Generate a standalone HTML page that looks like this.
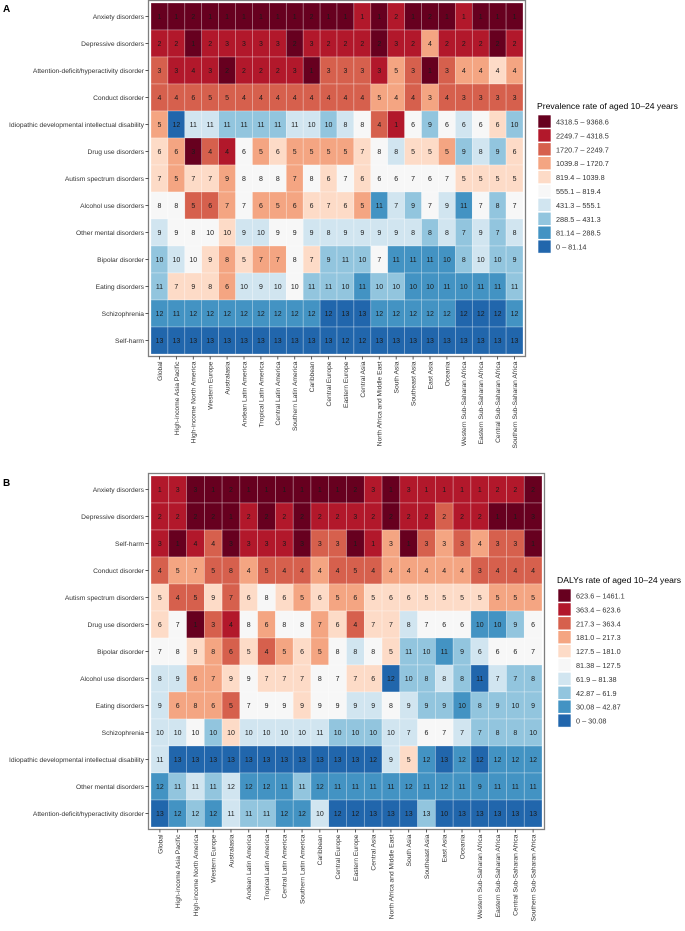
<!DOCTYPE html>
<html><head><meta charset="utf-8"><style>
html,body{margin:0;padding:0;background:#fff;}
svg{display:block;font-family:"Liberation Sans",sans-serif;}
</style></head><body>
<svg id="fig" width="685" height="931" viewBox="0 0 685 931"></svg>
<script>
const regions=["Global","High-income Asia Pacific","High-income North America","Western Europe","Australasia","Andean Latin America","Tropical Latin America","Central Latin America","Southern Latin America","Caribbean","Central Europe","Eastern Europe","Central Asia","North Africa and Middle East","South Asia","Southeast Asia","East Asia","Oceania","Western Sub-Saharan Africa","Eastern Sub-Saharan Africa","Central Sub-Saharan Africa","Southern Sub-Saharan Africa"];
const disordersA=["Anxiety disorders","Depressive disorders","Attention-deficit/hyperactivity disorder","Conduct disorder","Idiopathic developmental intellectual disability","Drug use disorders","Autism spectrum disorders","Alcohol use disorders","Other mental disorders","Bipolar disorder","Eating disorders","Schizophrenia","Self-harm"];
const disordersB=["Anxiety disorders","Depressive disorders","Self-harm","Conduct disorder","Autism spectrum disorders","Drug use disorders","Bipolar disorder","Alcohol use disorders","Eating disorders","Schizophrenia","Idiopathic developmental intellectual disability","Other mental disorders","Attention-deficit/hyperactivity disorder"];
const legendA=["4318.5 – 9368.6","2249.7 – 4318.5","1720.7 – 2249.7","1039.8 – 1720.7","819.4 – 1039.8","555.1 – 819.4","431.3 – 555.1","288.5 – 431.3","81.14 – 288.5","0 – 81.14"];
const legendB=["623.6 – 1461.1","363.4 – 623.6","217.3 – 363.4","181.0 – 217.3","127.5 – 181.0","81.38 – 127.5","61.9 – 81.38","42.87 – 61.9","30.08 – 42.87","0 – 30.08"];
const rankA=[
[1,1,2,1,1,1,1,1,1,2,1,1,1,1,2,1,2,1,1,1,1,1],
[2,2,1,2,3,3,3,3,2,3,2,2,2,2,3,2,4,2,2,2,2,2],
[3,3,4,3,2,2,2,2,3,1,3,3,3,3,5,3,1,3,4,4,4,4],
[4,4,6,5,5,4,4,4,4,4,4,4,4,5,4,4,3,4,3,3,3,3],
[5,12,11,11,11,11,11,11,11,10,10,8,8,4,1,6,9,6,6,6,6,10],
[6,6,3,4,4,6,5,6,5,5,5,5,7,8,8,5,5,5,9,8,9,6],
[7,5,7,7,9,8,8,8,7,8,6,7,6,6,6,7,6,7,5,5,5,5],
[8,8,5,6,7,7,6,5,6,6,7,6,5,11,7,9,7,9,11,7,8,7],
[9,9,8,10,10,9,10,9,9,9,8,9,9,9,9,8,8,8,7,9,7,8],
[10,10,10,9,8,5,7,7,8,7,9,11,10,7,11,11,11,10,8,10,10,9],
[11,7,9,8,6,10,9,10,10,11,11,10,11,10,10,10,10,11,10,11,11,11],
[12,11,12,12,12,12,12,12,12,12,12,13,13,12,12,12,12,12,12,12,12,12],
[13,13,13,13,13,13,13,13,13,13,13,12,12,13,13,13,13,13,13,13,13,13]];
const levelA=[
[9,9,9,9,9,9,9,9,9,9,9,9,8,9,8,9,9,9,8,9,9,9],
[8,8,9,8,8,8,8,8,9,8,8,8,8,9,8,8,6,8,8,8,9,8],
[7,8,8,8,9,8,8,8,8,9,7,7,7,8,6,7,9,7,6,6,5,6],
[7,7,7,7,7,7,7,7,7,7,7,7,7,6,6,7,6,7,7,7,7,7],
[6,0,3,3,2,2,2,2,3,3,2,3,4,7,8,4,2,4,3,4,5,2],
[5,6,9,7,8,4,6,5,6,6,6,6,5,4,3,5,5,6,2,3,2,5],
[5,6,5,5,6,4,4,4,6,4,5,4,5,4,4,4,4,4,5,5,5,5],
[4,4,7,7,6,4,6,6,6,5,5,5,6,1,3,2,4,3,1,4,2,4],
[3,4,4,4,5,3,3,4,4,3,3,3,3,3,3,3,2,3,2,3,2,3],
[2,3,4,5,6,5,6,6,4,5,2,2,2,4,1,1,1,1,2,3,2,2],
[2,5,5,5,6,3,3,3,4,2,2,2,1,2,2,1,1,1,1,1,1,2],
[1,1,1,1,1,1,1,1,1,1,0,0,0,1,1,1,1,1,0,0,0,1],
[0,0,0,0,0,0,0,0,0,0,0,0,0,0,0,0,0,0,0,0,0,0]];
const rankB=[
[1,3,3,1,2,1,1,1,1,1,1,2,3,1,3,1,1,1,1,2,2,2],
[2,2,2,2,1,2,2,2,2,2,2,3,2,2,2,2,2,2,2,1,1,3],
[3,1,4,4,3,3,3,3,3,3,3,1,1,3,1,3,3,3,4,3,3,1],
[4,5,7,5,8,4,5,4,4,4,4,5,4,4,4,4,4,4,3,4,4,4],
[5,4,5,9,7,6,8,6,5,6,5,6,5,6,6,5,5,5,5,5,5,5],
[6,7,1,3,4,8,6,8,8,7,6,4,7,7,8,7,6,6,10,10,9,6],
[7,8,9,8,6,5,4,5,6,5,8,8,8,5,11,10,11,9,6,6,6,7],
[8,9,6,7,9,9,7,7,7,8,7,7,6,12,10,8,8,8,11,7,7,8],
[9,6,8,6,5,7,9,9,9,9,9,9,9,8,9,9,9,10,8,9,10,9],
[10,10,10,10,10,10,10,10,10,11,10,10,10,10,7,6,7,7,7,8,8,10],
[11,13,13,13,13,13,13,13,13,13,13,13,12,9,5,12,13,12,12,12,12,12],
[12,11,11,11,12,12,12,11,11,12,11,11,11,11,12,11,12,11,9,11,11,11],
[13,12,12,12,11,11,11,12,12,10,12,12,13,13,13,13,10,13,13,13,13,13]];
const levelB=[
[8,8,9,9,9,9,9,9,9,9,9,9,8,9,8,8,8,8,8,8,8,9],
[8,8,9,9,9,8,9,8,9,8,8,8,8,9,8,8,7,8,8,9,9,9],
[8,9,8,7,9,8,8,8,9,7,7,9,8,6,9,7,6,7,6,7,7,9],
[7,6,6,7,7,6,7,7,7,6,7,7,7,6,6,6,6,6,7,7,7,7],
[5,7,7,5,7,5,4,5,6,5,6,6,5,5,5,5,5,5,5,6,6,6],
[5,4,9,7,8,4,6,4,4,6,5,7,5,5,3,4,4,4,1,1,2,4],
[4,4,5,6,7,5,7,6,5,6,4,3,4,5,2,2,1,2,3,4,4,4],
[3,3,6,6,5,4,5,5,5,4,4,5,5,0,2,2,3,2,0,3,2,2],
[3,6,6,6,7,4,4,4,5,4,4,3,3,4,3,2,2,1,2,2,2,2],
[3,3,4,2,5,3,3,3,3,3,2,2,2,3,3,4,4,3,2,2,2,2],
[3,0,0,0,0,0,0,0,0,0,0,0,0,3,5,1,0,1,0,1,1,1],
[1,2,3,2,3,1,1,1,2,1,1,1,1,1,1,1,1,1,1,1,1,1],
[0,1,2,1,3,2,2,1,1,3,0,0,0,0,0,2,0,0,0,0,0,0]];

const palette=["#2166AC","#4393C3","#92C5DE","#D1E5F0","#F7F7F7","#FDDBC7","#F4A582","#D6604D","#B2182B","#67001F"];
const NS="http://www.w3.org/2000/svg";
const svg=document.getElementById('fig');
function mk(tag,attrs,parent){const e=document.createElementNS(NS,tag);for(const k in attrs)e.setAttribute(k,attrs[k]);(parent||svg).appendChild(e);return e;}

function panel(cfg){
  const g=mk('g',{});
  
  
  const nC=regions.length,nR=cfg.rows.length;
  const cw=(cfg.x1-cfg.x0)/nC, rh=(cfg.y1-cfg.y0)/nR;
  const xS=i=>cfg.x0+i*cw, yS=j=>cfg.y0+j*rh;
  const fr=mk('rect',{x:cfg.x0-2.5,y:cfg.y0-2.5,width:cfg.x1-cfg.x0+5,height:cfg.y1-cfg.y0+5,fill:'#fff',stroke:'#7f7f7f','stroke-width':1.3},g);
  
  
  for(let j=0;j<nR;j++){for(let i=0;i<nC;i++){
    const r=mk('rect',{x:xS(i),y:yS(j),width:cw,height:rh,fill:palette[cfg.levels[j][i]],stroke:'#ffffff','stroke-opacity':0.45,'stroke-width':0.6},g);
    
    
    const t=mk('text',{x:xS(i)+cw/2,y:yS(j)+rh/2+2.5,'text-anchor':'middle','font-size':7,fill:'#1a1a1a'},g);
    t.textContent=cfg.ranks[j][i];
    
    
  }}
  cfg.rows.forEach((lab,j)=>{
    const y=yS(j)+rh/2;
    mk('line',{x1:cfg.x0-5.5,x2:cfg.x0-2.5,y1:y,y2:y,stroke:'#333','stroke-width':0.8},g);
    const t=mk('text',{x:cfg.x0-7,y:y+2.4,'text-anchor':'end','font-size':6.7,fill:'#333'},g);
    t.textContent=lab;
    
    
  });
  regions.forEach((lab,i)=>{
    const x=xS(i)+cw/2, yb=cfg.y1+2.5;
    mk('line',{x1:x,x2:x,y1:yb,y2:yb+3,stroke:'#333','stroke-width':0.8},g);
    const t=mk('text',{x:x+2.4,y:yb+5,'text-anchor':'end','font-size':6.7,fill:'#333',transform:`rotate(-90 ${x+2.4} ${yb+5})`},g);
    t.textContent=lab;
    
    
  });
  const pl=mk('text',{x:3,y:cfg.labelY,'font-size':10,'font-weight':'bold',fill:'#000'},g);
  pl.textContent=cfg.tag;
  
  
  const lg=mk('g',{},g);
  
  
  const tt=mk('text',{x:cfg.lx,y:cfg.ly,'font-size':8.6,fill:'#000'},lg);
  tt.textContent=cfg.title;
  
  
  cfg.legend.forEach((lab,k)=>{
    const y=cfg.ly+6+k*13.9;
    const s=mk('rect',{x:cfg.lx+1,y:y,width:13,height:13,fill:palette[9-k],stroke:'#fff','stroke-width':0.6},lg);
    
    
    const t=mk('text',{x:cfg.lx+19,y:y+9.5,'font-size':7.3,fill:'#333'},lg);
    t.textContent=lab;
    
    
  });
}
panel({name:'panel-a-prevalence',tag:'A',labelY:12,x0:151,x1:523,y0:3,y1:354,rows:disordersA,ranks:rankA,levels:levelA,legend:legendA,title:'Prevalence rate of aged 10–24 years',lx:537,ly:109});
panel({name:'panel-b-dalys',tag:'B',labelY:486,x0:151,x1:542,y0:476,y1:827,rows:disordersB,ranks:rankB,levels:levelB,legend:legendB,title:'DALYs rate of aged 10–24 years',lx:557,ly:583});
</script>
</body></html>
